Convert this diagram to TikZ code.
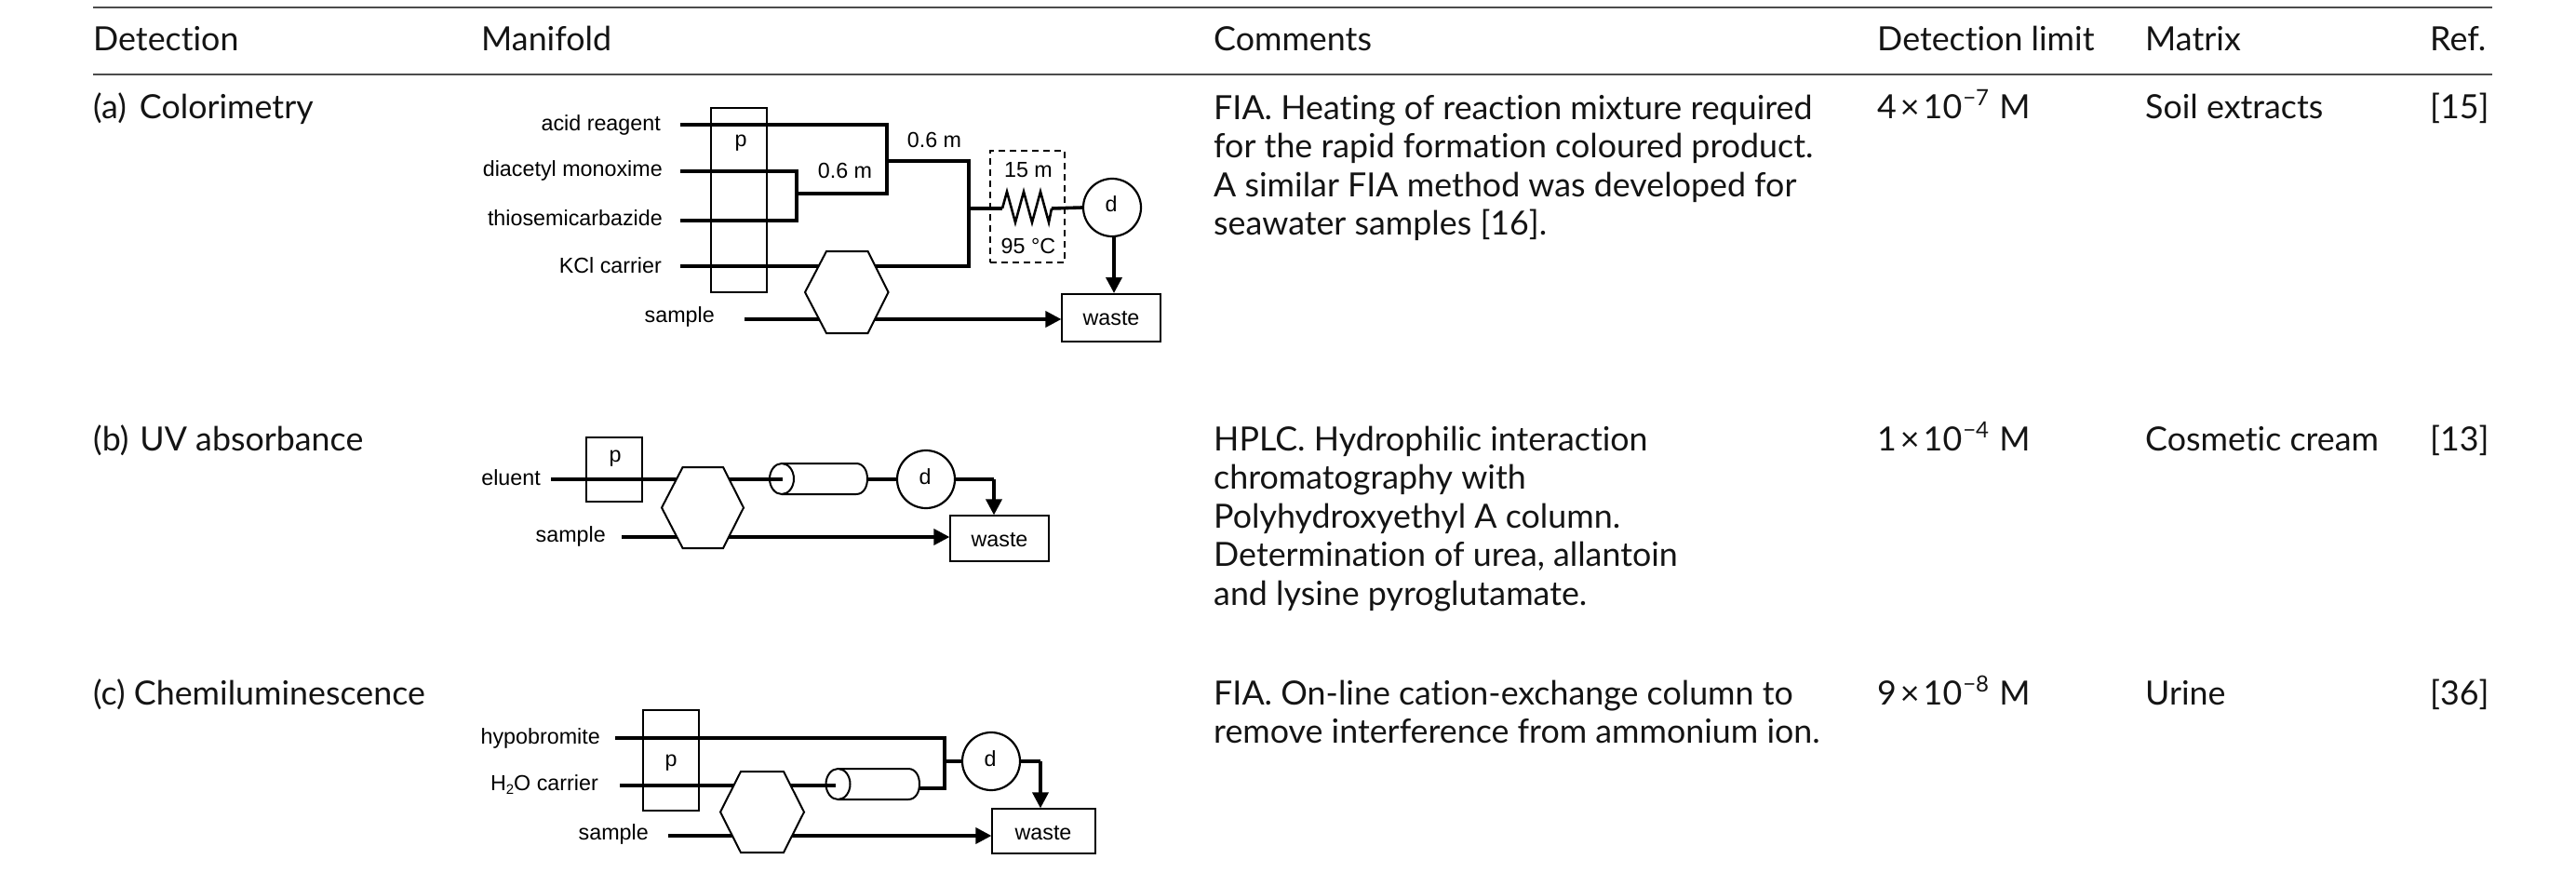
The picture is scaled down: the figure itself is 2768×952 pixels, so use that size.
\documentclass[tikz,border=0pt]{standalone}
\usepackage{fontspec}
\setmainfont{Lato}[Ligatures={NoCommon}]
\newfontfamily\arialf{Liberation Sans}
\usetikzlibrary{arrows.meta}
\newcommand{\supnum}[1]{\hspace{1pt}\raisebox{14pt}{\fontsize{24}{24}\selectfont #1}\hspace{2pt}}
\newcommand{\tm}{\hspace{4pt}×\hspace{4pt}}
\tikzset{
  x=1pt,y=-1pt,
  hd/.style={anchor=base west,inner sep=0pt,text=black!92,font=\fontsize{35.8}{41.5}\selectfont,align=left},
  lab/.style={anchor=base east,inner sep=0pt,font=\arialf\fontsize{23.3}{26}\selectfont},
  mid/.style={anchor=base,inner sep=0pt,font=\arialf\fontsize{23.3}{26}\selectfont},
  tube/.style={line width=3.6pt},
  tubearrow/.style={tube,-{Triangle[length=17pt,width=17pt]},shorten >=-0.5pt},
  thin box/.style={draw,line width=2.2pt,inner sep=0pt},
  outline/.style={line width=2pt,fill=white},
  detector/.style={draw,circle,line width=2.2pt,inner sep=0pt,minimum size=62pt,fill=white},
}
\newcommand{\hexa}[6]{% left right top bottom flatL flatR
  \draw[outline] (#1,{(#3+#4)/2}) -- (#5,#3) -- (#6,#3) -- (#2,{(#3+#4)/2}) -- (#6,#4) -- (#5,#4) -- cycle;}
\newcommand{\colm}[4]{% centre-x, end-x, top, bottom
  \draw[outline] (#1,#3) -- ({#2-12},#3) .. controls (#2-4,#3) and (#2,{#3+8}) .. (#2,{(#3+#4)/2}) .. controls (#2,{#4-8}) and (#2-4,#4) .. ({#2-12},#4) -- (#1,#4);
  \draw[outline] (#1,{(#3+#4)/2}) ellipse [x radius=13,y radius={(#4-#3)/2}];}
\begin{document}
\begin{tikzpicture}
\useasboundingbox (0,0) rectangle (2768,952);
\fill[white] (0,0) rectangle (2768,952);
% table rules
\coordinate (r1a) at (100,8); \coordinate (r1b) at (2678,8);
\coordinate (r2a) at (100,80); \coordinate (r2b) at (2678,80);
\draw[line width=1.3pt,black!70] (r1a) -- (r1b);
\draw[line width=1.3pt,black!70] (r2a) -- (r2b);
% header
\node[hd] (h1) at (100,55) {Detection};
\node[hd] (h2) at (517,55) {Manifold};
\node[hd] (h3) at (1304,55) {Comments};
\node[hd] (h4) at (2017,55) {Detection limit};
\node[hd] (h5) at (2305,55) {Matrix};
\node[hd] (h6) at (2611,55) {Ref.};
% rows
\node[hd] (a1) at (100,128) {(a)\hspace{5pt} Colorimetry};
\node[hd] (a3) at (1304,252.5) {FIA. Heating of reaction mixture required\\for the rapid formation coloured product.\\A similar FIA method was developed for\\seawater samples [16].};
\node[hd] (a4) at (2017,128) {4\tm10\supnum{−7} M};
\node[hd] (a5) at (2305,128) {Soil extracts};
\node[hd] (a6) at (2611,128) {[15]};
\node[hd] (b1) at (100,484) {(b)\hspace{3pt} UV absorbance};
\node[hd] (b3) at (1304,650) {HPLC. Hydrophilic interaction\\chromatography with\\Polyhydroxyethyl A column.\\Determination of urea, allantoin\\and lysine pyroglutamate.};
\node[hd] (b4) at (2017,484) {1\tm10\supnum{−4} M};
\node[hd] (b5) at (2305,484) {Cosmetic cream};
\node[hd] (b6) at (2611,484) {[13]};
\node[hd] (c1) at (100,757) {(c) Chemiluminescence};
\node[hd] (c3) at (1304,798.5) {FIA. On-line cation-exchange column to\\remove interference from ammonium ion.};
\node[hd] (c4) at (2017,757) {9\tm10\supnum{−8} M};
\node[hd] (c5) at (2305,757) {Urine};
\node[hd] (c6) at (2611,757) {[36]};
% ---------- manifold (a)
\node[lab] (la1) at (710,141) {acid reagent};
\node[lab] (la2) at (712,190) {diacetyl monoxime};
\node[lab] (la3) at (712,242) {thiosemicarbazide};
\node[lab] (la4) at (711,293) {KCl carrier};
\node[lab] (la5) at (768,346) {sample};
\coordinate (sa1) at (731,134); \coordinate (sa2) at (731,184);
\coordinate (sa3) at (731,237); \coordinate (sa4) at (731,286);
\coordinate (sa5) at (800,343);
\coordinate (ja1) at (953,134); \coordinate (ja2) at (856,184);
\coordinate (ja3) at (856,237); \coordinate (ja4) at (856,208);
\coordinate (ja5) at (953,208); \coordinate (ja6) at (953,173);
\coordinate (ja7) at (1041,173); \coordinate (ja8) at (1041,286);
\coordinate (ja9) at (1041,224); \coordinate (rsa) at (1077,224); \coordinate (rsb) at (1130,224);
\node[detector] (da) at (1195,223) {};
\node[thin box,minimum width=106pt,minimum height=51pt] (wa) at (1194,341.5) {};
\draw[tube] (sa1) -- (ja1) -- (ja5) -- (ja4);
\draw[tube] (sa2) -- (ja2) -- (ja3) -- (sa3);
\draw[tube] (ja6) -- (ja7) -- (ja8) -- (sa4);
\draw[tube] (ja9) -- (rsa);
\draw[line width=2.6pt] (rsa) -- (1082,206) -- (1091,239) -- (1100,206) -- (1109,239) -- (1118,206) -- (1127,239) -- (rsb);
\draw[tube] (rsb) -- (da.west);
\draw[tubearrow] (sa5) -- (wa.west|-sa5);
\draw[tubearrow] (1197,254) -- (1197,314.5);
\node[draw,line width=1.7pt,dash pattern=on 7pt off 5pt,inner sep=0pt,minimum width=80pt,minimum height=120pt] (ova) at (1104,222) {};
\node[thin box,minimum width=60pt,minimum height=198pt] (pa) at (794,215) {};
\hexa{865}{954.5}{270}{358}{888}{932.5}
\node[mid] (tpa) at (796,158) {p};
\node[mid] (t1) at (908,192) {0.6 m};
\node[mid] (t2) at (1004,159) {0.6 m};
\node[mid] (t3) at (1105,191) {15 m};
\node[mid] (t4) at (1105,272) {95 °C};
\node[mid] (tda) at (1194,228) {d};
\node[mid] (twa) at (1194,349) {waste};
% ---------- manifold (b)
\node[lab] (lb1) at (581,521) {eluent};
\node[lab] (lb2) at (651,582) {sample};
\coordinate (sb1) at (592,515); \coordinate (eb1) at (841,515);
\coordinate (sb2) at (668,577); \coordinate (cb) at (932,515);
\coordinate (kb) at (1068,515);
\node[detector] (db) at (995,515) {};
\node[thin box,minimum width=106pt,minimum height=49pt] (wb) at (1074,578.5) {};
\node[thin box,minimum width=60pt,minimum height=69pt] (pb) at (660,504.5) {};
\colm{840}{932}{498}{531}
\draw[tube] (sb1) -- (eb1);
\draw[tube] (cb) -- (db.west);
\draw[tube] (db.east) -- (kb);
\draw[tubearrow] (kb) -- (kb|-wb.north);
\draw[tubearrow] (sb2) -- (wb.west|-sb2);
\hexa{711}{799}{502}{589}{733.6}{777}
\node[mid] (tpb) at (661,496) {p};
\node[mid] (tdb) at (994,520) {d};
\node[mid] (twb) at (1074,587) {waste};
% ---------- manifold (c)
\node[lab] (lc1) at (645,799) {hypobromite};
\node[lab] (lc2) at (643,849) {H\raisebox{-4pt}{\fontsize{15}{15}\selectfont 2}O carrier};
\node[lab] (lc3) at (697,902) {sample};
\coordinate (sc1) at (661,793); \coordinate (jc1) at (1015,793);
\coordinate (sc2) at (666,844); \coordinate (ec2) at (898,844);
\coordinate (sc3) at (718,898); \coordinate (cc) at (988,847);
\coordinate (jc2) at (1015,847); \coordinate (jc3) at (1015,818);
\coordinate (kc) at (1118,818);
\node[detector] (dc) at (1065,818) {};
\node[thin box,minimum width=111pt,minimum height=48pt] (wc) at (1121.5,893) {};
\node[thin box,minimum width=60pt,minimum height=108pt] (pc) at (721,817) {};
\colm{900.5}{988}{826}{859}
\draw[tube] (sc1) -- (jc1) -- (jc2) -- (cc);
\draw[tube] (sc2) -- (ec2);
\draw[tube] (jc3) -- (dc.west);
\draw[tube] (dc.east) -- (kc);
\draw[tubearrow] (kc) -- (kc|-wc.north);
\draw[tubearrow] (sc3) -- (wc.west|-sc3);
\hexa{774}{864}{829}{916}{796}{842}
\node[mid] (tpc) at (721,823) {p};
\node[mid] (tdc) at (1064,823) {d};
\node[mid] (twc) at (1121,902) {waste};
\end{tikzpicture}
\end{document}
